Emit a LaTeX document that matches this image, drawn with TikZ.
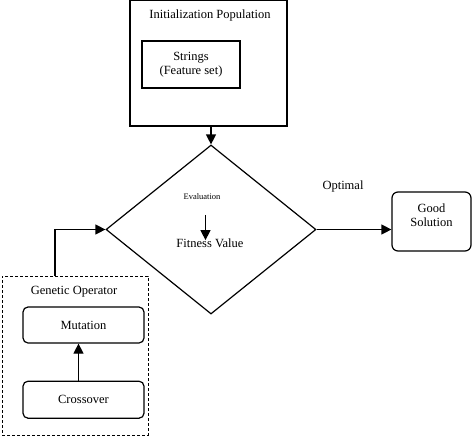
\documentclass[tikz,border=0pt]{standalone}
\usepackage{fontspec}
\setmainfont{Liberation Serif}
\usetikzlibrary{arrows.meta, positioning, shapes.geometric}

\begin{document}
\begin{tikzpicture}[
    x=1pt, y=-1pt,
    box/.style={draw, rectangle, align=center, inner sep=0pt, font=\fontsize{12.5}{13.5}\selectfont},
    rbox/.style={box, rounded corners=5pt},
    txt/.style={align=center, font=\fontsize{12.5}{14}\selectfont},
    decide/.style={draw, diamond, minimum width=210pt, minimum height=169pt, inner sep=0pt},
    line width=1.2pt,
    >={Triangle[length=10pt, width=10pt]}
]
    \useasboundingbox (0,0) rectangle (474,437);

    % Population
    \node[box, minimum width=157pt, minimum height=126pt] (pop) at (208.5,63) {};
    \node[txt] (poptitle) at (210,15) {Initialization Population};
    \node[box, minimum width=98pt, minimum height=47pt] (strings) at (191,64.5) {Strings\\(Feature set)};

    % Evaluation
    \node[decide] (eval) at (211,229.5) {};
    \node[font=\fontsize{8.5}{10}\selectfont] (evaltxt) at (202,197) {Evaluation};
    \node[txt] (fitness) at (210,243) {Fitness Value};

    % Result
    \node[rbox, rounded corners=6pt, minimum width=79pt, minimum height=59pt] (good) at (431.5,221.5) {};
    \node[txt] (goodtxt) at ([yshift=6.5pt]good.center) {Good\\Solution};
    \node[txt] (optimal) at (343,186) {Optimal};

    % Genetic operator
    \node[box, dash pattern=on 3pt off 2pt, line width=1pt, minimum width=146pt, minimum height=159pt] (genop) at (75,355.5) {};
    \node[txt] (gentitle) at (74,292) {Genetic Operator};
    \node[rbox, minimum width=121pt, minimum height=36pt] (mut) at (83.5,325) {Mutation};
    \node[rbox, minimum width=121pt, minimum height=37pt, below=37pt of mut] (cross) {Crossover};

    % Connections
    \draw[->] (pop.south -| eval.north) -- (eval.north);
    \draw[->] ([xshift=3.5pt, yshift=-11pt]evaltxt.south) -- ([xshift=-4.5pt, yshift=-5.5pt]fitness.north);
    \draw[->] (eval.east) -- (eval.east -| good.west);
    \draw[->] ([xshift=-5pt]cross.north) -- ([xshift=-5pt]mut.south);
    \draw[->] ([xshift=-20pt]genop.north) |- (eval.west);
\end{tikzpicture}
\end{document}
